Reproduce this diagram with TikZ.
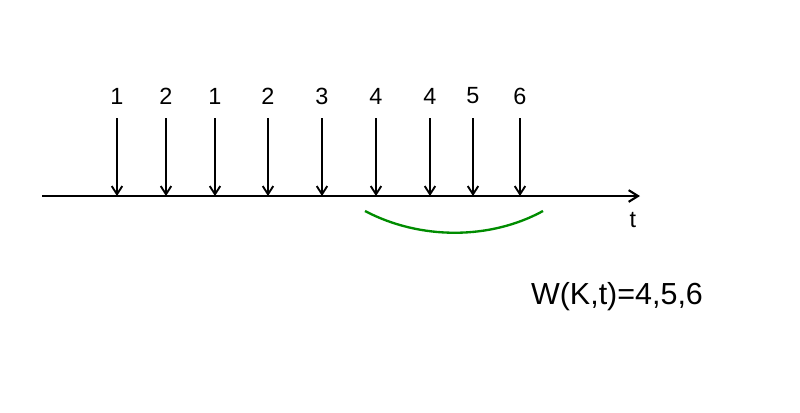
\documentclass[tikz,border=0pt]{standalone}
\usepackage{fontspec}
\setmainfont{Liberation Sans}
\usetikzlibrary{arrows.meta}
\begin{document}
\begin{tikzpicture}[x=0.03cm,y=-0.03cm,
  ev/.style={line width=1.6pt,-{Straight Barb[length=7pt,width=9pt]}},
  lab/.style={font=\fontsize{20}{20}\selectfont}]
\useasboundingbox (0,0) rectangle (800,412);
\coordinate (a0) at (42,196);
\coordinate (a1) at (640,196);
\draw[line width=1.8pt,-{Straight Barb[length=8pt,width=10pt]}] (a0) -- (a1);
\foreach \x/\l [count=\i] in {117/1,166/2,215/1,268/2,322/3,376/4,430/4,473/5,520/6}{
  \node[lab] (l\i) at (\x,96) {\l};
  \coordinate (e\i) at (\x,196);
  \draw[ev] (\x,118) -- (e\i);
}
\coordinate (g0) at (365,211);
\coordinate (g1) at (543,211);
\draw[line width=2pt,green!55!black] (g0) .. controls (420,240) and (490,240) .. (g1);
\node[lab] (t) at (633,220) {t};
\node[font=\fontsize{26}{26}\selectfont] (w) at (617,297) {W(K,t)=4,5,6};
\end{tikzpicture}
\end{document}
